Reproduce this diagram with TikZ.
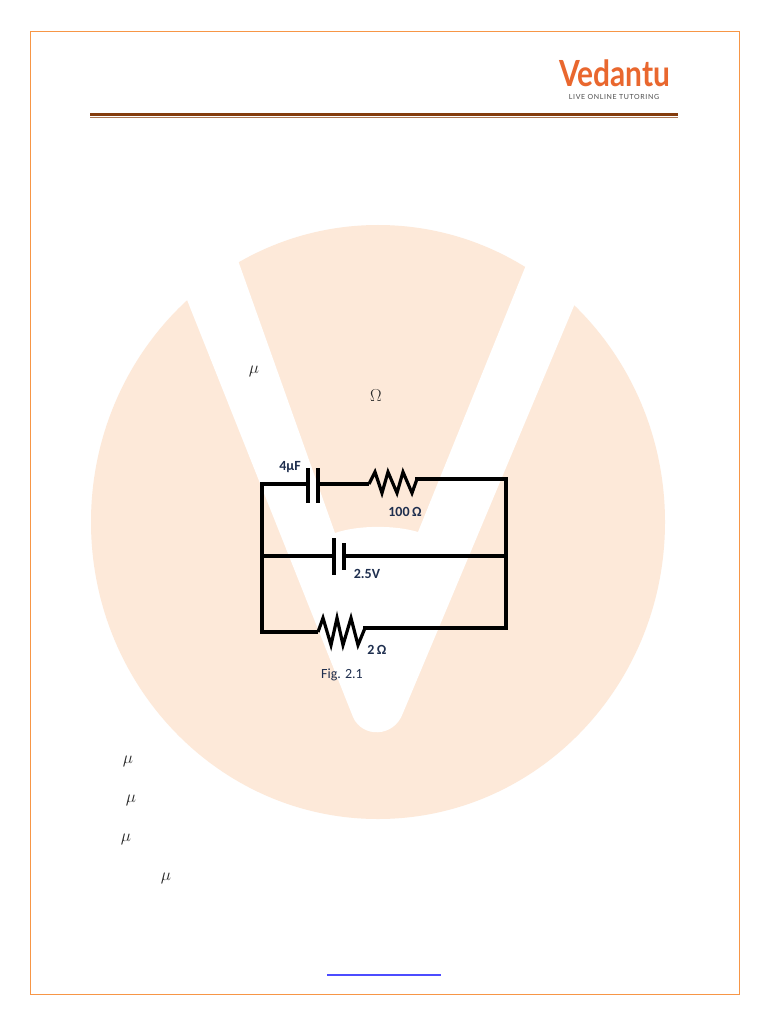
\documentclass[tikz,border=0pt]{standalone}
\usepackage{fontspec}
\setmainfont{Carlito}
\newfontfamily\logofont{Lato}
\newfontfamily\tagfont[LetterSpace=9]{Lato}
\definecolor{peach}{HTML}{FDE9D9}
\definecolor{pageline}{HTML}{F79646}
\definecolor{logoorange}{HTML}{E9672E}
\definecolor{rulebrown}{HTML}{843C0C}
\definecolor{labelblue}{HTML}{1F2F4F}
\tikzset{
  wire/.style={line width=3.2pt},
  plate/.style={line width=3.2pt},
  lbl/.style={text=labelblue,font=\fontsize{14}{16}\selectfont\bfseries,inner sep=0pt},
  sym/.style={font=\fontsize{16}{18}\selectfont,inner sep=0pt,text=black!85}
}
\begin{document}
\begin{tikzpicture}[x=1pt,y=-1pt]
\useasboundingbox (0,0) rectangle (768,1024);
\fill[white] (0,0) rectangle (768,1024);
% watermark
\fill[peach] (378,522) ellipse(287 and 297);
\fill[white] (160,232)--(353,717) .. controls (362,738) and (394,738) .. (403,713)--(605,232)--(540,232)--(524,270)--(418,532)
  .. controls (395,525) and (358,525) .. (335,533)--(240,266)--(228,232)--cycle;
% page
\draw[pageline,line width=0.9pt] (30,31) rectangle (739,994);
\node[text=logoorange,font=\logofont\fontsize{36}{36}\selectfont\bfseries,inner sep=0pt,xscale=0.83] (logo) at (615,73) {Vedantu};
\node[text=black!70,font=\tagfont\fontsize{7}{8}\selectfont,inner sep=0pt] (tagline) at (614,96.5) {LIVE ONLINE TUTORING};
\coordinate (ruleL) at (90,114.5);
\coordinate (ruleR) at (678,114.5);
\draw[rulebrown,line width=3pt] (ruleL)--(ruleR);
\draw[rulebrown!70,line width=0.8pt] (90,117.5)--(678,117.5);
\coordinate (linkL) at (327,975);
\coordinate (linkR) at (441,975);
\draw[blue!70,line width=1.2pt] (linkL)--(linkR);
% symbols in the text
\node[sym] (mua) at (254,371.5) {$\mu$};
\node[sym] (ohm) at (376,396) {$\Omega$};
\node[sym] (mub) at (128,761) {$\mu$};
\node[sym] (muc) at (131,800) {$\mu$};
\node[sym] (mud) at (126,839) {$\mu$};
\node[sym] (mue) at (166,878) {$\mu$};
% circuit
\coordinate (TL) at (262,484);
\coordinate (TR) at (506,479);
\coordinate (ML) at (262,556);
\coordinate (MR) at (506,556);
\coordinate (BL) at (262,632);
\coordinate (BR) at (506,628);
\coordinate (capAl) at (308,484);
\coordinate (capAr) at (318,484);
\coordinate (resAl) at (369,484);
\coordinate (resAr) at (417,479);
\coordinate (capBl) at (334,556);
\coordinate (capBr) at (344,556);
\coordinate (resBl) at (318,632);
\coordinate (resBr) at (365,628);
\draw[wire,line cap=rect] (BL)--(TL)--(capAl);
\draw[wire] (capAr)--(resAl);
\draw[wire] (resAl)--(375,472)--(382,493)--(388,472)--(397,493)--(403,472)--(412,493)--(resAr);
\draw[wire,line cap=rect] (resAr)--(TR)--(BR)--(resBr);
\draw[wire] (BL)--(resBl);
\draw[wire] (resBl)--(323,618)--(331,645)--(337,618)--(343,645)--(351,618)--(358,645)--(resBr);
\draw[wire] (ML)--(capBl);
\draw[wire] (capBr)--(MR);
\draw[plate] (308,468)--(308,503);
\draw[plate] (318,468)--(318,503);
\draw[plate] (334,538)--(334,575);
\draw[plate] (344,543)--(344,570);
\node[lbl] (capAlbl) at (290,467) {4µF};
\node[lbl] (resAlbl) at (405,512) {100$\,$Ω};
\node[lbl] (capBlbl) at (367,574) {2.5V};
\node[lbl] (resBlbl) at (377,650) {2$\,$Ω};
\node[lbl,font=\fontsize{14}{16}\selectfont] (figlbl) at (342,675) {Fig. 2.1};
\end{tikzpicture}
\end{document}
